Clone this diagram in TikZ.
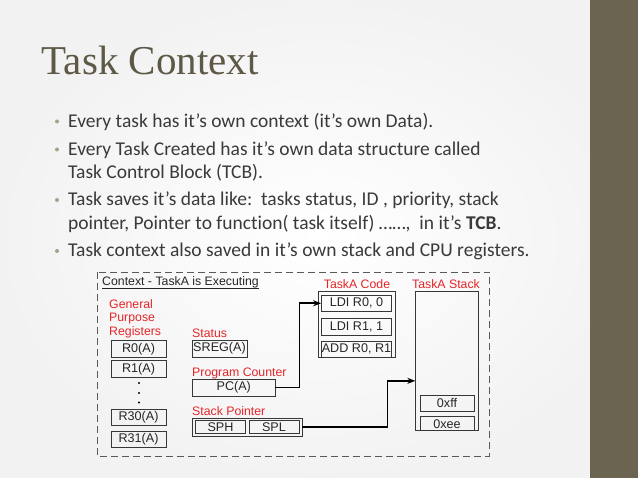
\documentclass[tikz,border=0pt]{standalone}
\usepackage{fontspec}
\setmainfont{Carlito}[Ligatures=NoCommon]
\newfontfamily\titlefont{Liberation Serif}
\newfontfamily\diagfont{Liberation Sans}
\usetikzlibrary{arrows.meta}
\definecolor{barcol}{RGB}{106,100,80}
\definecolor{titlecol}{RGB}{94,88,70}
\definecolor{bodycol}{RGB}{58,58,58}
\definecolor{bulcol}{RGB}{165,162,138}
\definecolor{lblred}{RGB}{228,38,42}
\definecolor{boxcol}{RGB}{55,55,55}
\tikzset{
  bodytext/.style={anchor=base west, inner sep=0pt, text=bodycol, font=\fontsize{19.5}{22}\selectfont},
  bul/.style={circle, fill=bulcol, inner sep=0pt, minimum size=4pt},
  lbl/.style={anchor=base west, inner sep=0pt, text=lblred, font=\diagfont\fontsize{12.3}{13.5}\selectfont},
  reg/.style={draw=boxcol, line width=0.8pt, inner sep=0pt, font=\diagfont\fontsize{12.6}{13}\selectfont, text=black!85},
  conn/.style={line width=1.5pt, -{Stealth[length=8pt,width=6pt]}},
  dotm/.style={circle, fill=black, inner sep=0pt, minimum size=2.4pt}
}
\begin{document}
\begin{tikzpicture}[x=1pt,y=-1pt]
\useasboundingbox (0,0) rectangle (638,478);
\shade[inner color=white, outer color=black!5] (0,0) rectangle (638,478);
\fill[barcol] (590,0) rectangle (638,478);
% title
\node[anchor=base west, inner sep=0pt, text=titlecol, font=\titlefont\fontsize{41}{44}\selectfont] (title) at (41.5,75) {Task Context};
% bullets
\node[bul] (b1) at (57,121.5) {};
\node[bodytext] (t1) at (68,127.5) {Every task has it’s own context (it’s own Data).};
\node[bul] (b2) at (57,149.5) {};
\node[bodytext] (t2) at (68,155.5) {Every Task Created has it’s own data structure called};
\node[bodytext] (t2b) at (68,178.5) {Task Control Block (TCB).};
\node[bul] (b3) at (57,200) {};
\node[bodytext] (t3) at (68,206) {Task saves it’s data like:\ \ tasks status, ID , priority, stack};
\node[bodytext] (t3b) at (68,229.5) {pointer, Pointer to function( task itself) ……,\ \ in it’s \textbf{TCB}.};
\node[bul] (b4) at (57,251) {};
\node[bodytext] (t4) at (68,257) {Task context also saved in it’s own stack and CPU registers.};
% diagram frame
\draw[draw=black!65, line width=0.9pt, dash pattern=on 7pt off 4pt] (97,272) rectangle (489.5,456);
\node[anchor=base west, inner sep=0pt, font=\diagfont\fontsize{12.3}{13.5}\selectfont, text=black!85] (ctx) at (102,286) {Context - TaskA is Executing};
\draw[line width=0.6pt, black!85] ([yshift=-2pt]ctx.base west) -- ([yshift=-2pt]ctx.base east);
% general purpose registers
\node[lbl] (gp1) at (109,308.5) {General};
\node[lbl] (gp2) at (109,322) {Purpose};
\node[lbl] (gp3) at (109,335.5) {Registers};
\node[reg, minimum width=55pt, minimum height=16.5pt] (r0) at (138.5,349) {R0(A)};
\node[reg, minimum width=55pt, minimum height=16.5pt] (r1) at (138.5,369) {R1(A)};
\node[dotm] (d1) at (139,383) {};
\node[dotm] (d2) at (139,393) {};
\node[dotm] (d3) at (139,402.5) {};
\node[reg, minimum width=55pt, minimum height=16.5pt] (r30) at (138.5,417.5) {R30(A)};
\node[reg, minimum width=55pt, minimum height=16.5pt] (r31) at (138.5,439.5) {R31(A)};
% status
\node[lbl] (stl) at (192,337.5) {Status};
\node[reg, minimum width=55pt, minimum height=17pt] (sreg) at (219.5,348.5) {SREG(A)};
% program counter
\node[lbl] (pcl) at (192,376.5) {Program Counter};
\node[reg, minimum width=82.5pt, minimum height=17pt] (pc) at (233.75,387.5) {PC(A)};
% stack pointer
\node[lbl] (spl) at (192,416) {Stack Pointer};
\node[draw=boxcol, line width=0.8pt, inner sep=0pt, minimum width=110pt, minimum height=18pt] (sp) at (247,427) {};
\node[reg, minimum width=50pt, minimum height=13pt] (sph) at (220.5,427) {SPH};
\node[reg, minimum width=50pt, minimum height=13pt] (spll) at (274,427) {SPL};
% task code
\node[anchor=base, inner sep=0pt, text=lblred, font=\diagfont\fontsize{12.3}{13.5}\selectfont] (codel) at (357,289) {TaskA Code};
\node[draw=boxcol, line width=0.8pt, inner sep=0pt, minimum width=77pt, minimum height=66.5pt] (code) at (356.5,324.25) {};
\node[reg, minimum width=70pt, minimum height=16.5pt] (c1) at (356.5,303.25) {LDI R0, 0};
\node[reg, minimum width=70pt, minimum height=16.5pt] (c2) at (356.5,326.75) {LDI R1, 1};
\node[reg, minimum width=70pt, minimum height=16pt] (c3) at (356.5,349) {ADD R0, R1};
% task stack
\node[anchor=base, inner sep=0pt, text=lblred, font=\diagfont\fontsize{12.3}{13.5}\selectfont] (stackl) at (446,288.5) {TaskA Stack};
\node[draw=boxcol, line width=0.8pt, inner sep=0pt, minimum width=62.6pt, minimum height=139.7pt] (stack) at (447,360.85) {};
\node[reg, minimum width=54pt, minimum height=16pt] (s1) at (447,403) {0xff};
\node[reg, minimum width=54pt, minimum height=14pt] (s2) at (447,423.7) {0xee};
% connectors
\draw[conn] (pc.east) -- ++(24,0) |- (c1.west);
\draw[conn] (sp.east) -- ++(85,0) |- ([yshift=-20pt]stack.west);
\end{tikzpicture}
\end{document}
